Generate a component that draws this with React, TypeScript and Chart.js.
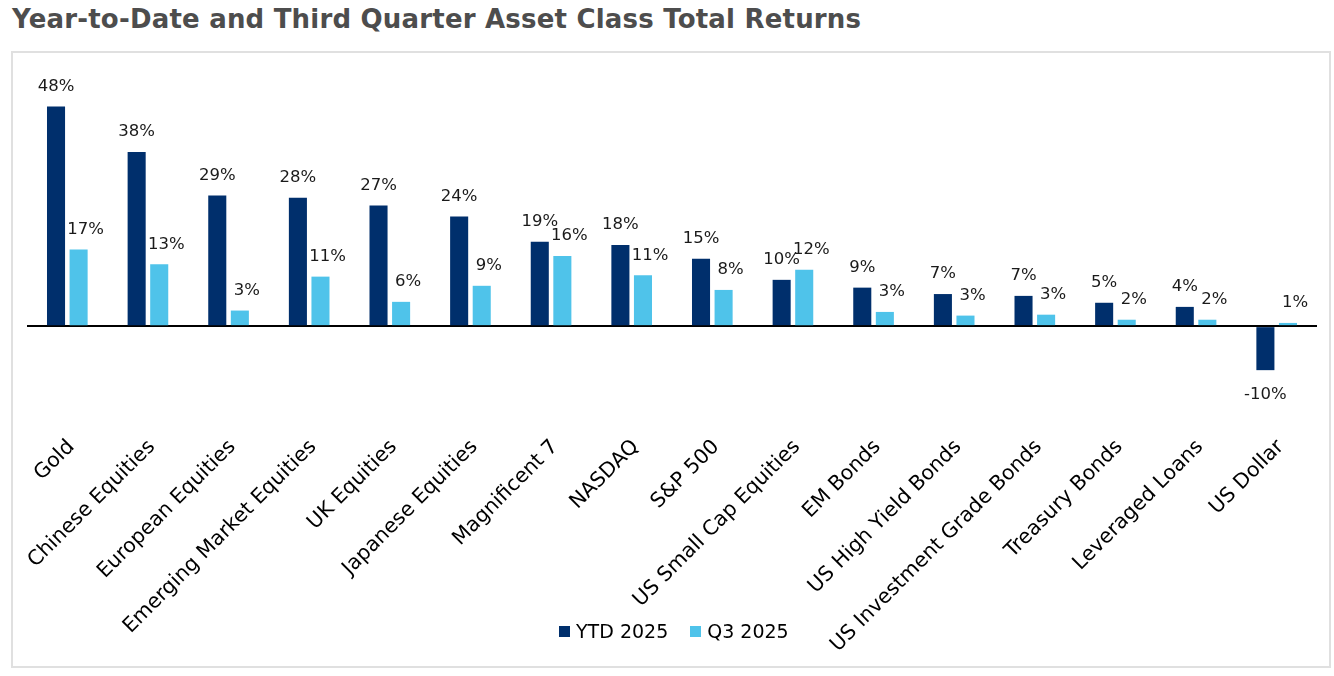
import React, { useEffect, useRef } from "react";
import { Chart, registerables } from "chart.js";

Chart.register(...registerables);

const titleText = "Year-to-Date and Third Quarter Asset Class Total Returns";

const categories = [
  "Gold",
  "Chinese Equities",
  "European Equities",
  "Emerging Market Equities",
  "UK Equities",
  "Japanese Equities",
  "Magnificent 7",
  "NASDAQ",
  "S&P 500",
  "US Small Cap Equities",
  "EM Bonds",
  "US High Yield Bonds",
  "US Investment Grade Bonds",
  "Treasury Bonds",
  "Leveraged Loans",
  "US Dollar",
];

const seriesNames = ["YTD 2025", "Q3 2025"];
const seriesColors = ["#002f6c", "#4fc3ea"];

const ytd2025 = [47.9, 38.0, 28.5, 28.0, 26.3, 23.9, 18.4, 17.7, 14.7, 10.1, 8.4, 7.0, 6.6, 5.1, 4.2, -9.6];
const q32025 = [16.7, 13.5, 3.4, 10.8, 5.3, 8.8, 15.3, 11.1, 7.9, 12.3, 3.1, 2.3, 2.5, 1.4, 1.4, 0.7];

const ytdLabels = ["48%", "38%", "29%", "28%", "27%", "24%", "19%", "18%", "15%", "10%", "9%", "7%", "7%", "5%", "4%", "-10%"];
const q3Labels = ["17%", "13%", "3%", "11%", "6%", "9%", "16%", "11%", "8%", "12%", "3%", "3%", "3%", "2%", "2%", "1%"];

const FONT = "'DejaVu Sans', sans-serif";

const dataLabelPlugin = {
  id: "dataLabels",
  afterDatasetsDraw(chart: any) {
    const ctx = chart.ctx;
    const labelSets = [ytdLabels, q3Labels];
    const xShift = [0, 7];
    ctx.save();
    ctx.font = `16.5px ${FONT}`;
    ctx.fillStyle = "#1a1a1a";
    ctx.textAlign = "center";
    ctx.textBaseline = "middle";
    chart.data.datasets.forEach((ds: any, di: number) => {
      const meta = chart.getDatasetMeta(di);
      meta.data.forEach((el: any, i: number) => {
        const v = ds.data[i];
        const y = v >= 0 ? el.y - 20 : el.y + 25;
        ctx.fillText(labelSets[di][i], el.x + xShift[di], y);
      });
    });
    ctx.restore();
  },
};

export default function App() {
  const canvasRef = useRef<HTMLCanvasElement | null>(null);

  useEffect(() => {
    document.body.style.margin = "0";
    const canvas = canvasRef.current;
    if (!canvas) return;
    const chart = new Chart(canvas, {
      type: "bar",
      data: {
        labels: categories,
        datasets: [
          {
            label: seriesNames[0],
            data: ytd2025,
            backgroundColor: seriesColors[0],
            categoryPercentage: 0.56,
            barPercentage: 0.8,
          },
          {
            label: seriesNames[1],
            data: q32025,
            backgroundColor: seriesColors[1],
            categoryPercentage: 0.56,
            barPercentage: 0.8,
          },
        ],
      },
      options: {
        responsive: true,
        maintainAspectRatio: false,
        animation: false,
        layout: { padding: { left: 27, right: 17, top: 74, bottom: 0 } },
        plugins: {
          legend: { display: false },
          title: { display: false },
          tooltip: { enabled: false },
        },
        scales: {
          x: {
            grid: { display: false },
            border: { display: false },
            ticks: {
              color: "#000",
              font: { family: FONT, size: 20.5 },
              minRotation: 45,
              maxRotation: 45,
              autoSkip: false,
              padding: 0,
              labelOffset: 4,
            },
            afterFit: (axis: any) => {
              axis.height = 249;
            },
          },
          y: {
            min: -22,
            max: 55,
            ticks: { display: false },
            border: { display: false },
            grid: {
              color: (c: any) => (c.tick && c.tick.value === 0 ? "#000" : "rgba(0,0,0,0)"),
              lineWidth: 2,
              drawTicks: false,
            },
            afterBuildTicks: (axis: any) => {
              axis.ticks = [{ value: 0 }];
            },
            afterFit: (axis: any) => {
              axis.width = 0;
            },
          },
        },
      },
      plugins: [dataLabelPlugin],
    });
    return () => chart.destroy();
  }, []);

  return (
    <div style={{ position: "relative", width: 1334, height: 676, overflow: "hidden", background: "#fff" }}>
      <div
        style={{
          position: "absolute",
          left: 12,
          top: 4,
          fontFamily: FONT,
          fontWeight: "bold",
          fontSize: 26,
          color: "#4d4d4d",
          whiteSpace: "nowrap",
          letterSpacing: "0.2px",
        }}
      >
        {titleText}
      </div>
      <div
        style={{
          position: "absolute",
          left: 11,
          top: 51,
          width: 1320,
          height: 617,
          border: "2px solid #e0e0e0",
          boxSizing: "border-box",
        }}
      />
      <div style={{ position: "absolute", left: 0, top: 0, width: 1334, height: 676 }}>
        <canvas ref={canvasRef} />
      </div>
      <div
        style={{
          position: "absolute",
          left: 559,
          top: 620,
          display: "flex",
          alignItems: "center",
          fontFamily: FONT,
          fontSize: 19,
          color: "#000",
          whiteSpace: "nowrap",
        }}
      >
        {seriesNames.map((n, i) => (
          <div key={n} style={{ display: "flex", alignItems: "center", marginRight: i === 0 ? 22 : 0 }}>
            <span style={{ display: "inline-block", width: 11, height: 11, background: seriesColors[i], marginRight: 6 }} />
            <span>{n}</span>
          </div>
        ))}
      </div>
    </div>
  );
}
